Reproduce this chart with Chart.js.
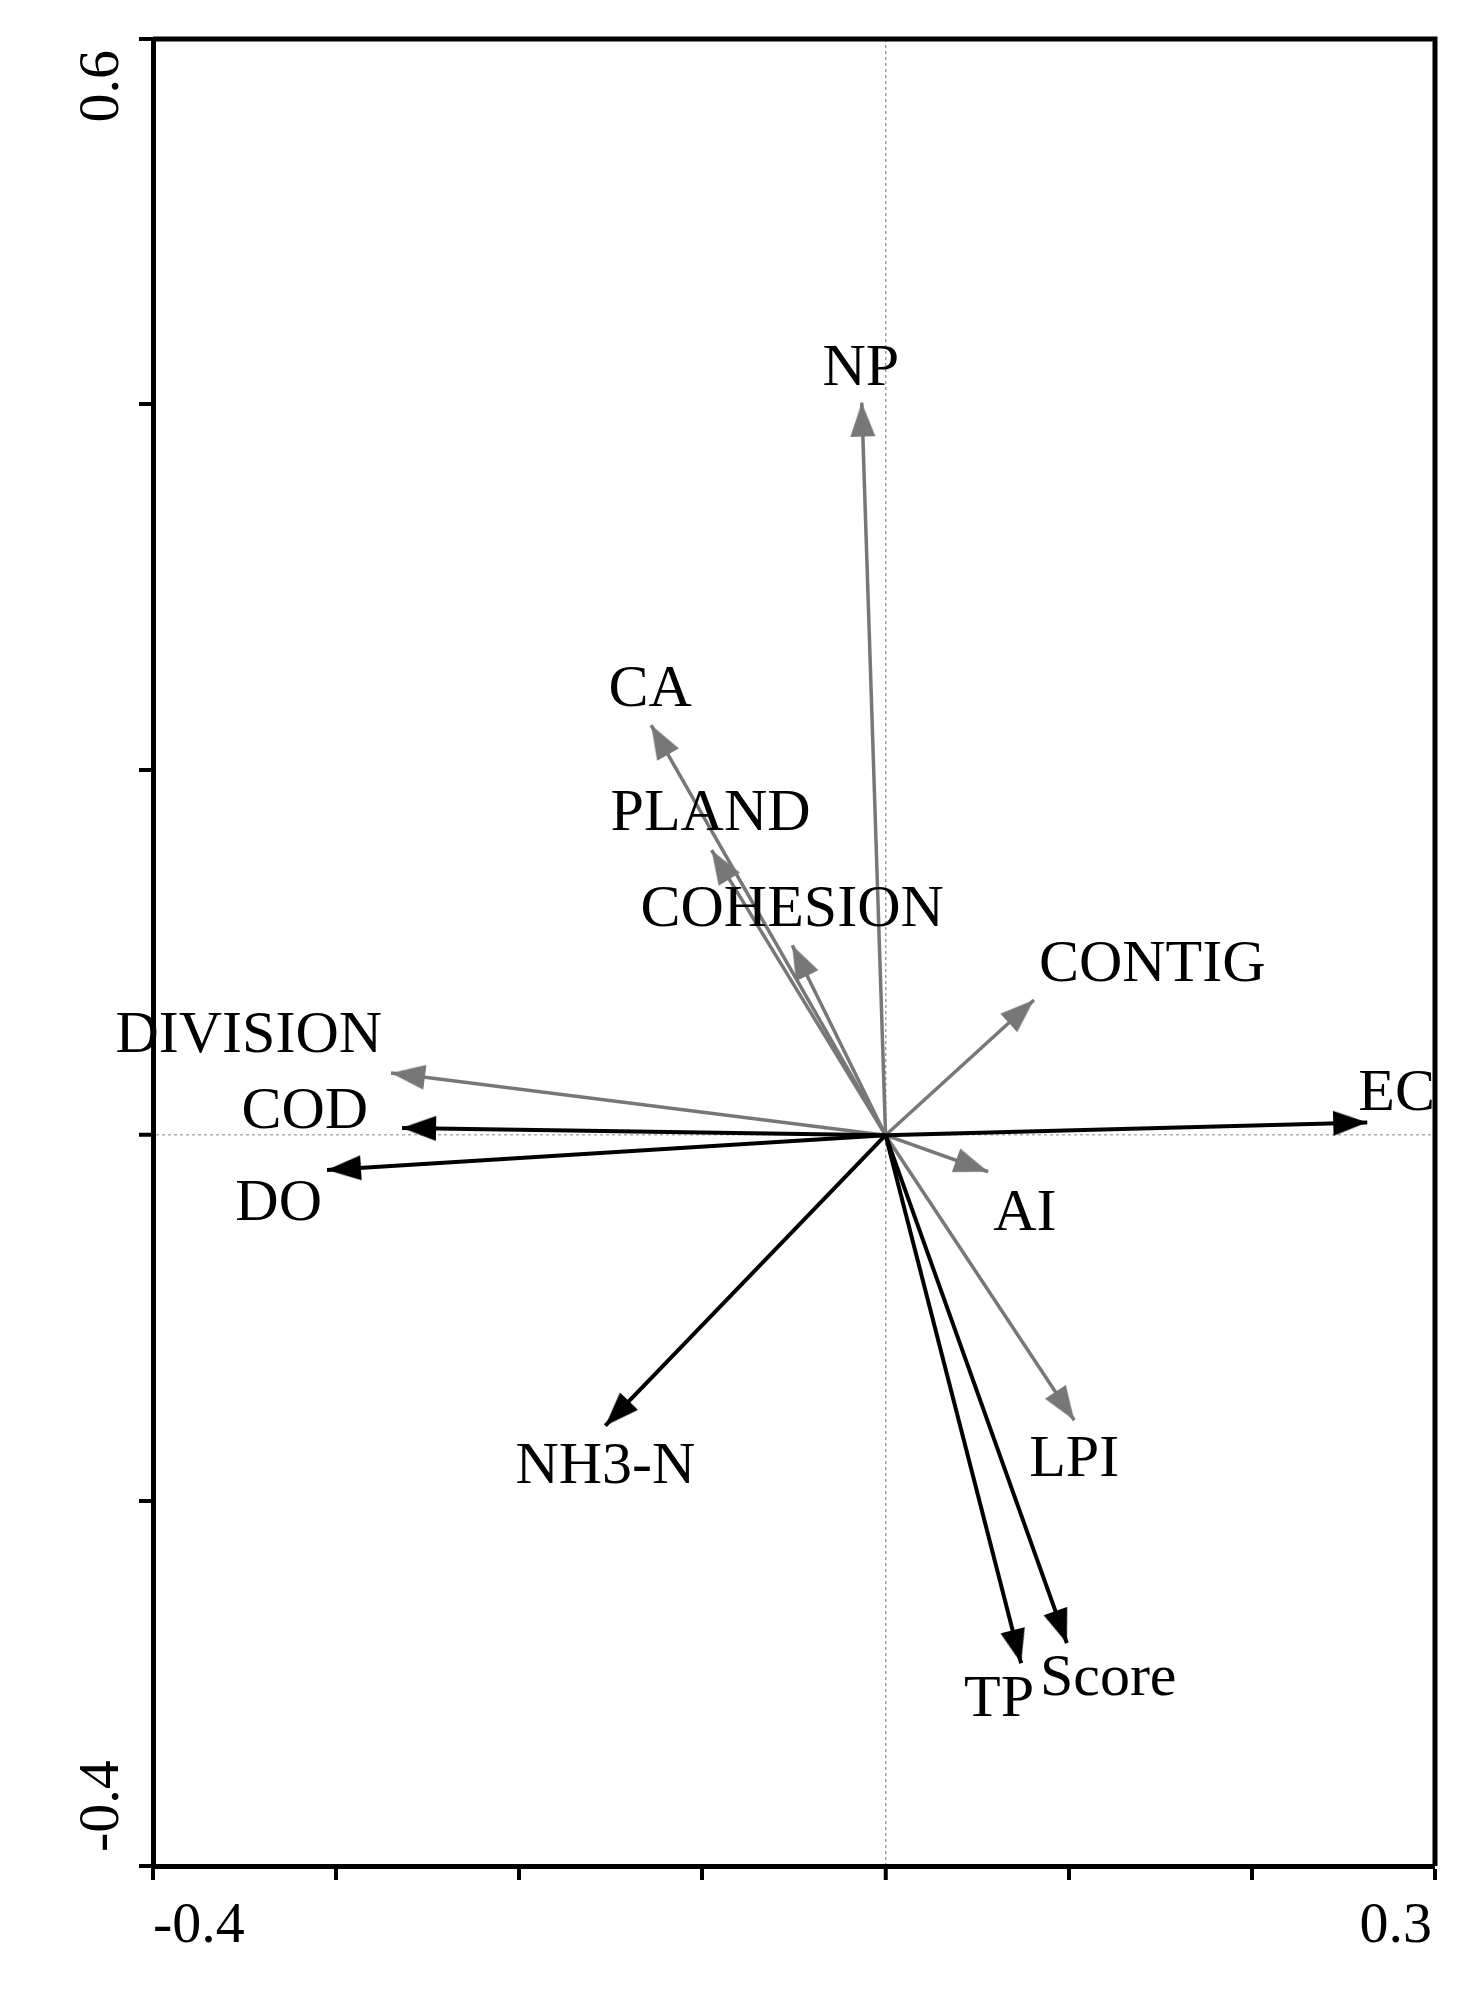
<!DOCTYPE html>
<html><head><meta charset="utf-8">
<script src="https://cdn.jsdelivr.net/npm/chart.js@4.4.1/dist/chart.umd.min.js"></script>
<style>html,body{margin:0;padding:0;background:#fff;} canvas{display:block;}</style>
</head><body>
<canvas id="c" width="1484" height="2000"></canvas>
<script>
// ---- data (RDA biplot arrow tips, axis 1 / axis 2) ----
const landscapeNames = ['NP','CA','PLAND','COHESION','CONTIG','DIVISION','AI','LPI'];
const landscapeAxis1 = [-0.013,-0.128,-0.095,-0.051,0.081,-0.270,0.056,0.103];
const landscapeAxis2 = [0.401,0.2245,0.156,0.104,0.074,0.034,-0.020,-0.156];
const waterNames = ['COD','DO','EC','NH3-N','TP','Score'];
const waterAxis1 = [-0.264,-0.305,0.263,-0.153,0.074,0.099];
const waterAxis2 = [0.004,-0.019,0.007,-0.159,-0.289,-0.278];
const xTickLabels = [-0.4, 0.3];
const yTickLabels = [-0.4, 0.6];

// ---- label placement (pixel offsets from arrow tip; style, not data) ----
const labelPlacement = {
  'NP':[-1,-38,'center'], 'CA':[-1,-39,'center'], 'PLAND':[-1,-40,'center'],
  'COHESION':[0,-39,'center'], 'CONTIG':[5,-39,'left'], 'DIVISION':[-9,-41,'right'],
  'AI':[5,38,'left'], 'LPI':[0,36,'center'], 'COD':[-34,-20,'right'],
  'DO':[-5,30,'right'], 'EC':[-9,-32,'left'], 'NH3-N':[0,37,'center'],
  'TP':[13,33,'right'], 'Score':[-27,32,'left']
};

const GRAY = '#777777', BLACK = '#000000';
const SERIF = '"Liberation Serif", "Times New Roman", serif';

function makeHead(color){
  const L = 34, W = 25;
  const cv = document.createElement('canvas');
  cv.width = W + 2; cv.height = 2 * L + 2;
  const g = cv.getContext('2d');
  const cx = cv.width / 2, cy = cv.height / 2;
  g.fillStyle = color;
  g.beginPath();
  g.moveTo(cx, cy);
  g.lineTo(cx + W / 2, cy + L);
  g.lineTo(cx - W / 2, cy + L);
  g.closePath();
  g.fill();
  return cv;
}
const grayHead = makeHead(GRAY), blackHead = makeHead(BLACK);

function headRotation(ctx){
  const r = ctx.raw;
  if (!r) return 0;
  const xs = ctx.chart.scales.x, ys = ctx.chart.scales.y;
  let dx = r.x, dy = -r.y;
  if (xs && ys) {
    const ox = xs.getPixelForValue(0), oy = ys.getPixelForValue(0);
    const px = xs.getPixelForValue(r.x), py = ys.getPixelForValue(r.y);
    if (isFinite(ox) && isFinite(oy) && isFinite(px) && isFinite(py)) { dx = px - ox; dy = py - oy; }
  }
  return Math.atan2(dx, -dy) * 180 / Math.PI;
}

function arrowDataset(name, x, y, color, head, width, order){
  return {
    label: name,
    data: [{x: 0, y: 0}, {x: x, y: y}],
    showLine: true,
    borderColor: color,
    backgroundColor: color,
    borderWidth: width,
    borderCapStyle: 'butt',
    pointRadius: [0, 6],
    pointHoverRadius: [0, 6],
    pointStyle: head,
    pointRotation: headRotation,
    tension: 0,
    fill: false,
    clip: false,
    order: order
  };
}

const datasets = [];
landscapeNames.forEach((n, i) => datasets.push(arrowDataset(n, landscapeAxis1[i], landscapeAxis2[i], GRAY, grayHead, 3.5, 1)));
waterNames.forEach((n, i) => datasets.push(arrowDataset(n, waterAxis1[i], waterAxis2[i], BLACK, blackHead, 4, 0)));

const isZero = (ctx) => ctx.tick && Math.abs(ctx.tick.value) < 1e-9;

const labelPlugin = {
  id: 'arrowLabels',
  afterDatasetsDraw(chart){
    const ctx = chart.ctx;
    ctx.save();
    ctx.font = '60px ' + SERIF;
    ctx.fillStyle = '#000';
    ctx.textBaseline = 'alphabetic';
    chart.data.datasets.forEach((ds, i) => {
      const tip = chart.getDatasetMeta(i).data[1];
      const p = labelPlacement[ds.label];
      ctx.textAlign = p[2];
      ctx.fillText(ds.label, tip.x + p[0], tip.y + p[1] + 20);
    });
    ctx.restore();
  }
};

const framePlugin = {
  id: 'frame',
  afterDraw(chart){
    const {ctx, chartArea: a, scales: {x, y}} = chart;
    ctx.save();
    ctx.strokeStyle = '#000';
    ctx.lineWidth = 5;
    ctx.lineJoin = 'miter';
    ctx.beginPath();
    ctx.moveTo(a.left, a.top);
    ctx.lineTo(a.right, a.top);
    ctx.lineTo(a.right, a.bottom);
    ctx.stroke();

    ctx.font = '58px ' + SERIF;
    ctx.fillStyle = '#000';
    ctx.textBaseline = 'alphabetic';
    xTickLabels.forEach((v, i) => {
      const px = x.getPixelForValue(v);
      ctx.textAlign = i === 0 ? 'left' : 'right';
      ctx.fillText(String(v), px + (i === 0 ? 0 : -3), a.bottom + 76);
    });
    yTickLabels.forEach((v, i) => {
      const py = y.getPixelForValue(v);
      ctx.save();
      ctx.translate(a.left - 35, py + (i === 0 ? -14 : 11));
      ctx.rotate(-Math.PI / 2);
      ctx.textAlign = i === 0 ? 'left' : 'right';
      ctx.fillText(String(v), 0, 0);
      ctx.restore();
    });
    ctx.restore();
  }
};

new Chart(document.getElementById('c'), {
  type: 'scatter',
  data: { datasets },
  options: {
    responsive: false,
    devicePixelRatio: 1,
    animation: false,
    events: [],
    layout: { padding: { top: 39, right: 49, left: 0, bottom: 0 } },
    plugins: { legend: { display: false }, tooltip: { enabled: false } },
    scales: {
      x: {
        type: 'linear', min: -0.4, max: 0.3,
        ticks: { display: false, stepSize: 0.1 },
        grid: {
          color: '#a0a0a0',
          lineWidth: (c) => isZero(c) ? 1.5 : 0,
          drawTicks: true, tickLength: 14, tickWidth: 4, tickColor: '#000'
        },
        border: { display: true, color: '#000', width: 5, dash: [3, 3] },
        afterFit(s){ s.height = 134; }
      },
      y: {
        type: 'linear', min: -0.4, max: 0.6,
        ticks: { display: false, stepSize: 0.2 },
        grid: {
          color: '#b0b0b0',
          lineWidth: (c) => isZero(c) ? 1.5 : 0,
          drawTicks: true, tickLength: 14, tickWidth: 4, tickColor: '#000'
        },
        border: { display: true, color: '#000', width: 5, dash: [3, 3] },
        afterFit(s){ s.width = 153; }
      }
    }
  },
  plugins: [labelPlugin, framePlugin]
});
</script>
</body></html>
